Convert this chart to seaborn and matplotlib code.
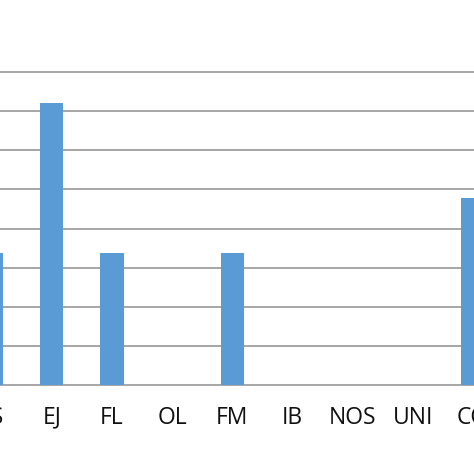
import numpy as np
import pandas as pd
import seaborn as sns
import matplotlib.pyplot as plt

categories = ["ES", "EJ", "FL", "OL", "FM", "IB", "NOS", "UNI", "CO"]
values = [3.37, 7.2, 3.37, 0, 3.37, 0, 0, 0, 4.77]


def main():
    sns.set_style("white")
    plt.rcParams['font.family'] = ['Open Sans', 'DejaVu Sans']

    df = pd.DataFrame({"cat": categories, "val": values})

    fig = plt.figure(figsize=(4.74, 4.74), dpi=100)
    # axes run past the figure edges, the reference is a crop of a wider chart
    ax = fig.add_axes([-0.0814, 0.1878, 1.1429, 0.660])

    sns.barplot(data=df, x="cat", y="val", color="#5b9bd5", saturation=1,
                width=0.39, linewidth=0, edgecolor="none", ax=ax, zorder=3)

    ax.set_xlim(-0.5, 8.5)
    ax.set_ylim(0, 8)
    ax.set_yticks(np.arange(0, 9, 1))
    ax.set_yticklabels([])
    ax.yaxis.grid(True, color="#a6a6a6", linewidth=1.4, clip_on=False)
    for gl in ax.get_ygridlines():
        gl.set_clip_on(False)
    ax.set_axisbelow(True)
    for s in ax.spines.values():
        s.set_visible(False)
    ax.tick_params(axis="both", length=0)
    ax.tick_params(axis="x", labelsize=16.5, pad=15, colors="#111111")
    ax.set_xlabel("")
    ax.set_ylabel("")

    plt.savefig("out.png", dpi=100)


if __name__ == "__main__":
    main()
